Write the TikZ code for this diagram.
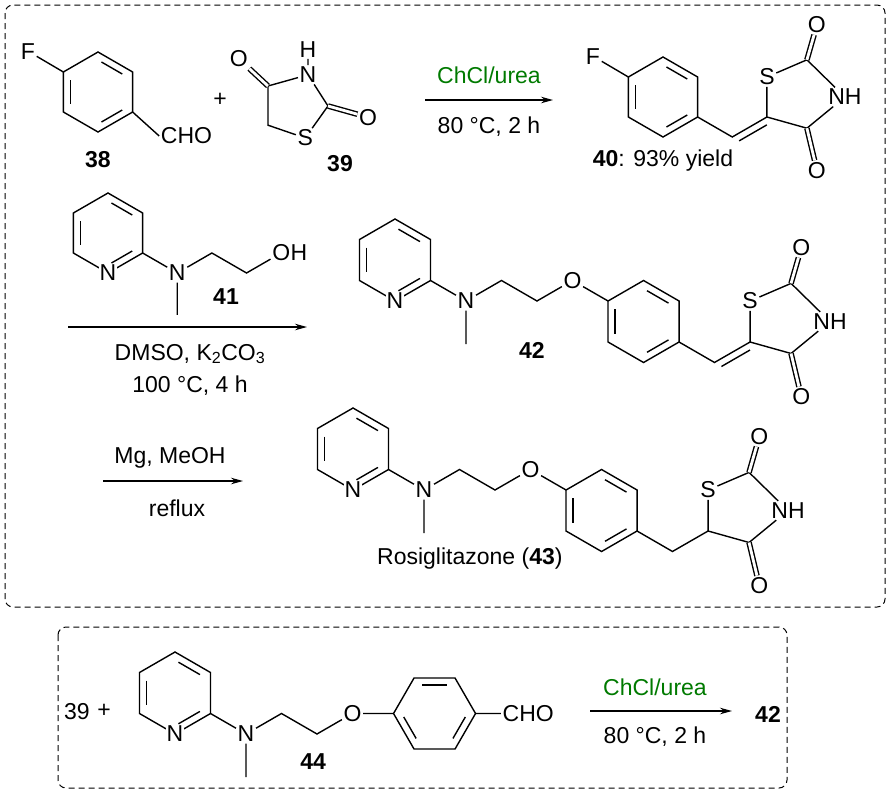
\documentclass[tikz,border=0pt]{standalone}
\usepackage{fontspec}
\setmainfont{Liberation Sans}
\usetikzlibrary{arrows.meta}
\definecolor{condgreen}{RGB}{0,122,0}

\tikzset{
  atom/.style={inner sep=1pt,fill=white},
  inner/.style={shorten <=4pt,shorten >=4pt},
  dbl/.style={double,double distance=2.8pt},
  rxn/.style={-{Stealth[length=12pt,width=6.5pt]}},
  cond/.style={inner sep=1pt},
  box/.style={dash pattern=on 6pt off 4pt,rounded corners=8pt,line width=1pt}
}

% hexagon of unit bond length, #2 = angle of first vertex carrying an inner bond
\newcommand\hexring[2]{%
  \draw #1 ++(#2:1) -- ++(#2+120:1) -- ++(#2+180:1) -- ++(#2+240:1)
        -- ++(#2+300:1) -- ++(#2+360:1) -- cycle;
  \foreach \a in {#2,#2+120,#2+240}
    \draw[inner] #1 ++(\a:.8) -- ++(\a+120:.8);}

% 2-pyridyl-N(Me)-CH2CH2-O
\newcommand\aminochain[1]{%
  \hexring{(0,0)}{30}
  \node[atom] (pyN) at (270:1) {N};
  \coordinate (c2) at (330:1);
  \node[atom] (amN) at (1.732,-1) {N};
  \coordinate (me) at (1.732,-2.05);
  \coordinate (ch1) at (2.598,-.5);
  \coordinate (ch2) at (3.464,-1);
  \node[atom] (oxy) at (4.33,-.5) {#1};
  \draw (c2) -- (amN) -- (ch1) -- (ch2) -- (oxy);
  \draw (amN) -- (me);}

% thiazolidine-2,4-dione, C5 at the origin
\newcommand\thiazolidine{%
  \node[atom] (S) at (0,1) {S};
  \coordinate (C2) at (1,1.43);
  \node[atom] (NH) at (1.95,.5) {NH};
  \coordinate (C4) at (1,-.28);
  \node[atom] (O2) at (1.25,2.3) {O};
  \node[atom] (O4) at (1.25,-1.33) {O};
  \draw (0,0) -- (S) -- (C2) -- (NH) -- (C4) -- (0,0);
  \draw[dbl] (C2) -- (O2);
  \draw[dbl] (C4) -- (O4);}

\begin{document}
\begin{tikzpicture}[x=1pt,y=1pt,line width=1.4pt,font=\fontsize{23}{27}\selectfont]
  \useasboundingbox (0,0) rectangle (890,-795);

  % frames
  \draw[box] (5,-5) rectangle (885,-607);
  \draw[box] (58,-627) rectangle (787,-788);

  % 38
  \begin{scope}[shift={(98,-92)},scale=40]
    \hexring{(0,0)}{30}
    \node[atom] (F38) at (-1.75,1.02) {F};
    \draw (150:1) -- (F38);
    \node[atom,anchor=west] (cho38) at (1.53,-1.1) {CHO};
    \draw (330:1) -- (cho38.west);
    \node (l38) at (0,-1.7) {\textbf{38}};
  \end{scope}
  \node (plus1) at (220,-100) {+};

  % 39
  \begin{scope}[shift={(268,-86)},scale=40]
    \coordinate (c4) at (0,0);
    \node[atom] (n39) at (1,.28) {N};
    \node[atom] (h39) at (1,.92) {H};
    \coordinate (c2) at (1.5,-.5);
    \node[atom] (s39) at (.93,-1.3) {S};
    \coordinate (c5) at (0,-.98);
    \node[atom] (o4) at (-.73,.68) {O};
    \node[atom] (o2) at (2.5,-.78) {O};
    \draw (c4) -- (n39) -- (c2) -- (s39) -- (c5) -- (c4);
    \draw (n39) -- (h39);
    \draw[dbl] (c4) -- (o4);
    \draw[dbl] (c2) -- (o2);
    \node (l39) at (1.8,-1.93) {\textbf{39}};
  \end{scope}

  % arrow 1
  \coordinate (a1s) at (425,-100);
  \coordinate (a1e) at (553,-100);
  \draw[rxn] (a1s) -- (a1e);
  \node[cond,text=condgreen] (r1) at (489,-75) {ChCl/urea};
  \node[cond] (t1) at (489,-127) {80 °C, 2 h};

  % 40
  \begin{scope}[shift={(663,-97)},scale=40]
    \hexring{(0,0)}{30}
    \node[atom] (F40) at (-1.75,1.02) {F};
    \draw (150:1) -- (F40);
    \coordinate (ch40) at (1.732,-1);
    \draw (330:1) -- (ch40) -- (2.598,-.5);
    \draw[inner] (ch40) ++(-60:.17) -- ++(30:1);
    \begin{scope}[shift={(2.598,-.5)}]
      \thiazolidine
    \end{scope}
    \node (l40) at (0,-1.6) {\textbf{40}: 93\% yield};
  \end{scope}

  % 41
  \begin{scope}[shift={(108,-233)},scale=40]
    \aminochain{O}
    \node[atom,anchor=west,inner sep=0pt,xshift=-2pt] (h41) at (oxy.east) {H};
    \node (l41) at (2.95,-1.6) {\textbf{41}};
  \end{scope}

  % arrow 2
  \coordinate (a2s) at (68,-327);
  \coordinate (a2e) at (307,-327);
  \draw[rxn] (a2s) -- (a2e);
  \node[cond] (r2) at (190,-354) {DMSO, K\textsubscript{2}CO\textsubscript{3}};
  \node[cond] (t2) at (190,-386) {100 °C, 4 h};

  % 42
  \begin{scope}[shift={(395,-260)},scale=41]
    \aminochain{O}
    \hexring{(6.062,-1.5)}{30}
    \draw (oxy) -- (5.196,-1);
    \coordinate (ch42) at (7.794,-2.5);
    \draw (6.928,-2) -- (ch42) -- (8.66,-2);
    \draw[inner] (ch42) ++(-60:.17) -- ++(30:1);
    \begin{scope}[shift={(8.66,-2)}]
      \thiazolidine
    \end{scope}
    \node (l42) at (3.34,-2.2) {\textbf{42}};
  \end{scope}

  % arrow 3
  \coordinate (a3s) at (103,-481);
  \coordinate (a3e) at (243,-481);
  \draw[rxn] (a3s) -- (a3e);
  \node[cond] (r3) at (170,-458) {Mg, MeOH};
  \node[cond] (t3) at (177,-508) {reflux};

  % 43
  \begin{scope}[shift={(353,-449)},scale=41]
    \aminochain{O}
    \hexring{(6.062,-1.5)}{30}
    \draw (oxy) -- (5.196,-1);
    \coordinate (ch43) at (7.794,-2.5);
    \draw (6.928,-2) -- (ch43) -- (8.66,-2);
    \begin{scope}[shift={(8.66,-2)}]
      \thiazolidine
    \end{scope}
    \node (l43) at (2.85,-2.68) {Rosiglitazone (\textbf{43})};
  \end{scope}

  % one-pot route
  \node (s39) at (77,-712) {39};
  \node (plus2) at (104,-711) {+};
  \begin{scope}[shift={(175,-693)},scale=41]
    \aminochain{O}
    \hexring{(6.33,-.5)}{60}
    \draw (oxy) -- (5.33,-.5);
    \node[atom,anchor=west] (cho44) at (7.95,-.5) {CHO};
    \draw (7.33,-.5) -- (cho44.west);
    \node (l44) at (3.37,-1.68) {\textbf{44}};
  \end{scope}
  \coordinate (a4s) at (590,-711);
  \coordinate (a4e) at (732,-711);
  \draw[rxn] (a4s) -- (a4e);
  \node[cond,text=condgreen] (r4) at (655,-687) {ChCl/urea};
  \node[cond] (t4) at (655,-737) {80 °C, 2 h};
  \node (p42) at (768,-714) {\textbf{42}};
\end{tikzpicture}
\end{document}
